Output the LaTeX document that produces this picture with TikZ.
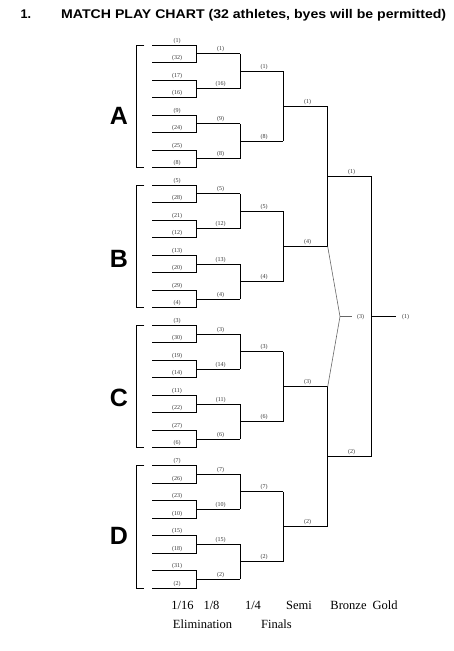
\documentclass[tikz,border=0pt]{standalone}
\usepackage{fontspec}
\setmainfont{Liberation Serif}
\newfontfamily\arialfont{Liberation Sans}
\begin{document}
\begin{tikzpicture}[x=1pt,y=-1pt,line width=1pt,
  seed/.style={font=\fontsize{6}{6}\selectfont,text=black!80,inner sep=0pt,anchor=south},
  sideseed/.style={font=\fontsize{6}{6}\selectfont,text=black!80,inner sep=0pt,anchor=west},
  grp/.style={font=\arialfont\bfseries\fontsize{25}{25}\selectfont,inner sep=0pt},
  ttl/.style={font=\arialfont\bfseries\fontsize{12.6}{14}\selectfont,inner sep=0pt,anchor=base west},
  foot/.style={font=\fontsize{12.5}{13}\selectfont,inner sep=0pt,anchor=base},
  bronzeline/.style={draw=black!60,line width=0.6pt}]
\useasboundingbox (0,0) rectangle (453,651);
% title
\node[ttl] (num) at (20,18) {1.};
\node[ttl] (title) at (60.7,18) {\scalebox{1.12}[1]{MATCH PLAY CHART (32 athletes, byes will be permitted)}};
% round 1
\foreach \s [count=\k from 0] in {1,32,17,16,9,24,25,8,5,28,21,12,13,20,29,4,3,30,19,14,11,22,27,6,7,26,23,10,15,18,31,2} {
  \pgfmathsetmacro\y{45+17.52*\k}
  \coordinate (a\k) at (152,\y);
  \coordinate (b\k) at (196.7,\y);
  \draw (a\k) -- (b\k);
  \node[seed] (s1-\k) at (177,\y-1.2) {(\s)};
}
% round 2
\foreach \s [count=\j from 0] in {1,16,9,8,5,12,13,4,3,14,11,6,7,10,15,2} {
  \pgfmathtruncatemacro\p{2*\j}\pgfmathtruncatemacro\q{2*\j+1}
  \draw (b\p) -- (b\q);
  \pgfmathsetmacro\y{45+17.52*(2*\j+0.5)}
  \coordinate (c\j) at (196.7,\y);
  \coordinate (d\j) at (240,\y);
  \draw (c\j) -- (d\j);
  \node[seed] (s2-\j) at (220.7,\y-1.2) {(\s)};
}
% round 3
\foreach \s [count=\j from 0] in {1,8,5,4,3,6,7,2} {
  \pgfmathtruncatemacro\p{2*\j}\pgfmathtruncatemacro\q{2*\j+1}
  \draw (d\p) -- (d\q);
  \pgfmathsetmacro\y{45+17.52*(4*\j+1.5)}
  \coordinate (e\j) at (240,\y);
  \coordinate (f\j) at (283.3,\y);
  \draw (e\j) -- (f\j);
  \node[seed] (s3-\j) at (264,\y-1.2) {(\s)};
}
% round 4 (1/4)
\foreach \s [count=\j from 0] in {1,4,3,2} {
  \pgfmathtruncatemacro\p{2*\j}\pgfmathtruncatemacro\q{2*\j+1}
  \draw (f\p) -- (f\q);
  \pgfmathsetmacro\y{45+17.52*(8*\j+3.5)}
  \coordinate (g\j) at (283.3,\y);
  \coordinate (h\j) at (327.7,\y);
  \draw (g\j) -- (h\j);
  \node[seed] (s4-\j) at (307.7,\y-1.2) {(\s)};
}
% semi
\draw (h0) -- (h1);
\draw (h2) -- (h3);
\pgfmathsetmacro\ya{45+17.52*7.5}
\pgfmathsetmacro\yb{45+17.52*23.5}
\coordinate (i0) at (327.7,\ya);
\coordinate (j0) at (371,\ya);
\coordinate (i1) at (327.7,\yb);
\coordinate (j1) at (371,\yb);
\draw (i0) -- (j0);
\draw (i1) -- (j1);
\node[seed] (s5-0) at (351.7,\ya-1.2) {(1)};
\node[seed] (s5-1) at (351.7,\yb-1.2) {(2)};
% gold
\draw (j0) -- (j1);
\pgfmathsetmacro\yg{45+17.52*15.5}
\coordinate (k0) at (371,\yg);
\coordinate (m0) at (396,\yg);
\draw (k0) -- (m0);
\node[sideseed] (gold) at (401.5,\yg) {(1)};
% bronze
\coordinate (br) at (340,\yg);
\coordinate (br2) at (351.7,\yg);
\draw[bronzeline] (h1) -- (br) -- (h2);
\draw[bronzeline] (br) -- (br2);
\node[sideseed] (bronze) at (356.5,\yg) {(3)};
% group brackets and letters
\foreach \g/\L/\ly in {0/A/116,1/B/259,2/C/398,3/D/536} {
  \pgfmathtruncatemacro\t{8*\g}\pgfmathtruncatemacro\u{8*\g+7}
  \pgfmathsetmacro\yt{45+17.52*\t}
  \pgfmathsetmacro\yu{45+17.52*\u}
  \coordinate (bt\g) at (144.3,\yt);
  \coordinate (bu\g) at (144.3,\yu);
  \draw (bt\g) -- (136.7,\yt) -- (136.7,\yu) -- (bu\g);
  \node[grp] (grp\L) at (119,\ly) {\L};
}
% footer
\node[foot] (f116) at (182.5,609.3) {1/16};
\node[foot] (f18) at (211.5,609.3) {1/8};
\node[foot] (f14) at (253,609.3) {1/4};
\node[foot] (fsemi) at (299,609.3) {Semi};
\node[foot] (fbronze) at (348.5,609.3) {Bronze};
\node[foot] (fgold) at (385,609.3) {Gold};
\node[foot] (felim) at (202.5,628.7) {Elimination};
\node[foot] (ffin) at (276.5,628.7) {Finals};
\end{tikzpicture}
\end{document}
